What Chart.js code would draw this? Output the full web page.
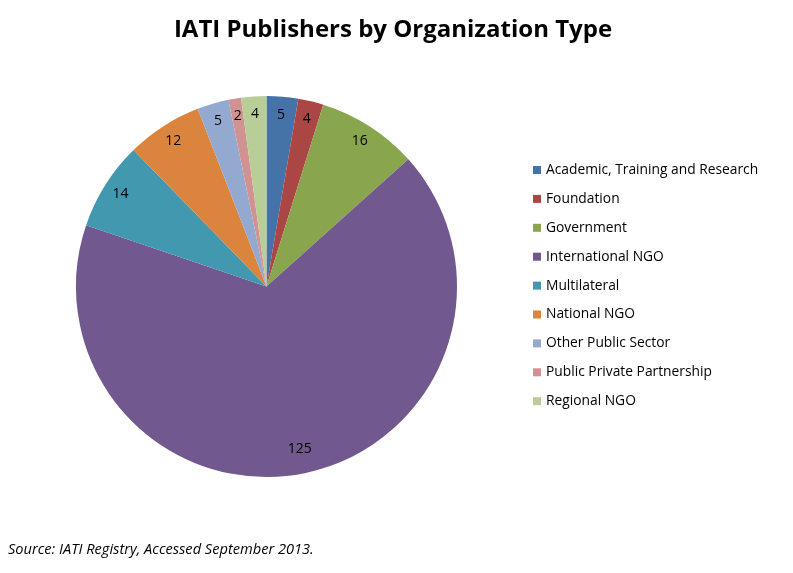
<!DOCTYPE html>
<html>
<head>
<meta charset="utf-8">
<script src="https://cdn.jsdelivr.net/npm/chart.js@4"></script>
<style>
  html, body { margin: 0; padding: 0; background: #fff; }
  #wrap { position: relative; width: 793px; height: 573px; }
</style>
</head>
<body>
<div id="wrap"><canvas id="orgChart" width="793" height="573"></canvas></div>
<script>
const categories = [
  "Academic, Training and Research",
  "Foundation",
  "Government",
  "International NGO",
  "Multilateral",
  "National NGO",
  "Other Public Sector",
  "Public Private Partnership",
  "Regional NGO",
];
const publishers = [5, 4, 16, 125, 14, 12, 5, 2, 4];
const sliceColors = [
  "#4572A7", "#AA4643", "#89A54E", "#71588F", "#4198AF",
  "#DB843D", "#93A9CF", "#D19392", "#B9CD96",
];
const chartTitle = "IATI Publishers by Organization Type";
const sourceNote = "Source: IATI Registry, Accessed September 2013.";

const FONT = "'Open Sans', 'Liberation Sans', sans-serif";

// title, legend, source note and slice labels
const decorations = {
  id: "decorations",
  afterDatasetsDraw(chart) {
    const ctx = chart.ctx;
    ctx.save();
    ctx.fillStyle = "#000";
    ctx.textBaseline = "middle";

    // title
    ctx.font = "bold 24px " + FONT;
    ctx.textAlign = "center";
    ctx.fillText(chartTitle, 393, 30);

    // value labels near the outer edge
    ctx.font = "14px " + FONT;
    const meta = chart.getDatasetMeta(0);
    meta.data.forEach((arc, i) => {
      const mid = (arc.startAngle + arc.endAngle) / 2;
      const d = arc.outerRadius - (publishers[i] > 100 ? 25 : 18);
      ctx.fillText(String(publishers[i]), arc.x + Math.cos(mid) * d, arc.y + Math.sin(mid) * d);
    });

    // legend
    ctx.font = "13.8px " + FONT;
    ctx.textAlign = "left";
    categories.forEach((name, i) => {
      const y = 170 + i * 28.9;
      ctx.fillStyle = sliceColors[i];
      ctx.fillRect(533, y - 4, 8, 8);
      ctx.fillStyle = "#000";
      ctx.fillText(name, 546, y);
    });

    // source
    ctx.font = "italic 14.6px " + FONT;
    ctx.fillText(sourceNote, 8, 550);
    ctx.restore();
  },
};

const orgCtx = document.getElementById("orgChart").getContext("2d");
const orgChart = new Chart(orgCtx, {
  type: "pie",
  data: {
    labels: categories,
    datasets: [
      {
        data: publishers,
        backgroundColor: sliceColors,
        borderWidth: 0,
      },
    ],
  },
  options: {
    responsive: false,
    animation: false,
    layout: {
      padding: { left: 76, right: 336, top: 96, bottom: 96 },
    },
    plugins: {
      legend: { display: false },
      title: { display: false },
      tooltip: { enabled: false },
    },
  },
  plugins: [decorations],
});
</script>
</body>
</html>
